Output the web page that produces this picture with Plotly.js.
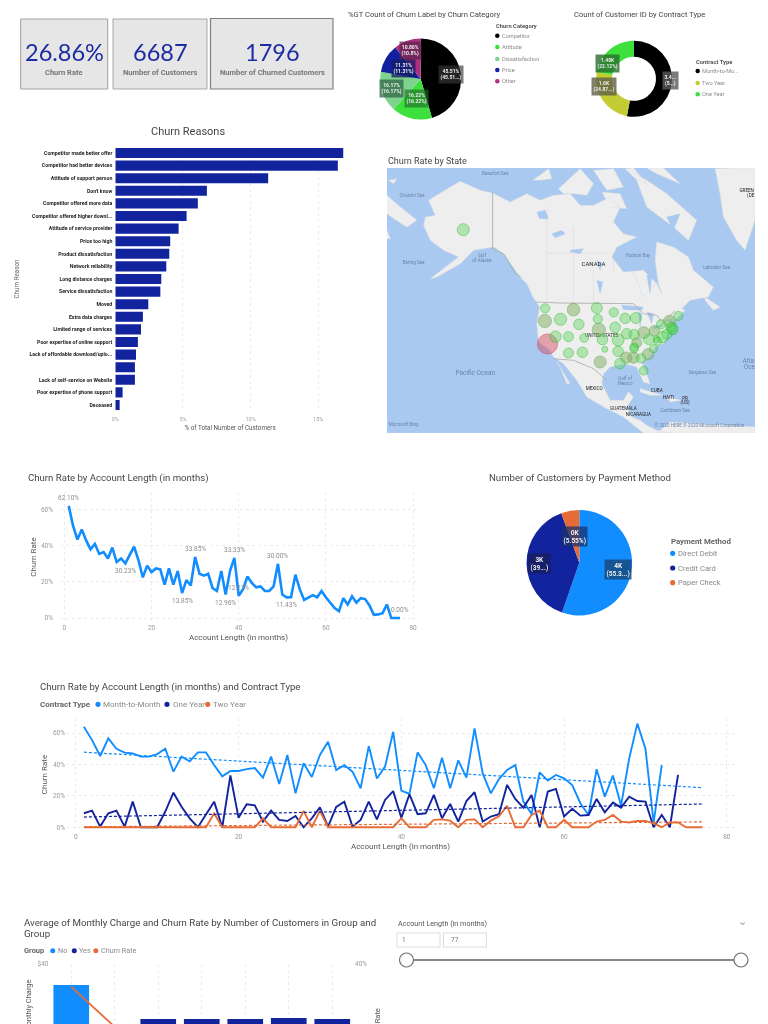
<!DOCTYPE html>
<html>
<head>
<meta charset="utf-8">
<script src="https://cdn.plot.ly/plotly-3.0.1.min.js"></script>
<style>
html,body{margin:0;padding:0;background:#fff;width:768px;height:1024px;overflow:hidden}
#chart{width:768px;height:1024px;filter:blur(0.5px)}
</style>
</head>
<body>
<div id="chart"></div>
<script>
// ---------- DATA ----------
const kpiValues = ["26.86%", "6687", "1796"];
const kpiLabels = ["Churn Rate", "Number of Customers", "Number of Churned Customers"];

const churnCategories = ["Competitor", "Attitude", "Dissatisfaction", "Price", "Other"];
const churnCategoryPct = [45.51, 16.22, 16.17, 11.31, 10.80];

const contractTypes = ["Month-to-Month", "Two Year", "One Year"];
const contractCounts = [3544, 1663, 1480];

const reasonLabels = ["Competitor made better offer", "Competitor had better devices", "Attitude of support person", "Don't know", "Competitor offered more data", "Competitor offered higher downl...", "Attitude of service provider", "Price too high", "Product dissatisfaction", "Network reliability", "Long distance charges", "Service dissatisfaction", "Moved", "Extra data charges", "Limited range of services", "Poor expertise of online support", "Lack of affordable download/uplo...", " ", "Lack of self-service on Website", "Poor expertise of phone support", "Deceased"];
const reasonPct = [16.85, 16.45, 11.3, 6.77, 6.1, 5.27, 4.68, 4.06, 3.99, 3.77, 3.4, 3.33, 2.44, 2.04, 1.9, 1.67, 1.53, 1.45, 1.45, 0.54, 0.32];

const months = [1,2,3,4,5,6,7,8,9,10,11,12,13,14,15,16,17,18,19,20,21,22,23,24,25,26,27,28,29,30,31,32,33,34,35,36,37,38,39,40,41,42,43,44,45,46,47,48,49,50,51,52,53,54,55,56,57,58,59,60,61,62,63,64,65,66,67,68,69,70,71,72,73,74,75,76,77];
const churnByLength = [62.1,51,43.5,49,43,38,41,35.5,36.5,33,39,31,33,30.23,35,39.5,32,22.5,29,25.5,27.5,27,18.5,27.5,18.5,26,13.85,21,18,33.85,24.5,23.5,24.5,16.5,15,26,12.96,26,33.33,12.27,16,23,19.5,17,17.5,15,15,17.5,30,13,11.43,11.5,24,16,10,11.5,12.7,11.5,15,11.5,8.5,5.5,3.8,11,7.5,12,8.5,11,10.5,7,1.8,2,2.7,7.5,0,0,0];
const labelMonths = [1,14,27,30,37,39,40,49,51,77];
const labelAbove = [true,false,false,true,false,true,true,true,false,true];

const paymentMethods = ["Direct Debit", "Credit Card", "Paper Check"];
const paymentCounts = [3698, 2618, 371];
const paymentLabels = ["4K\n(55.3...)", "3K\n(39...)", "0K\n(5.55%)"];

const monthToMonth = [64,55.5,45.4,56.6,50,47.5,47,45,45,46.6,50,35.4,45,42,47.7,47.7,39.6,32.4,35.8,35.8,37,37.7,31.6,45,27.5,46,21.6,40.7,32,46,54.5,36.5,39.6,35.4,24.8,51.7,31,38.6,60.8,23.3,21.2,47.7,39.6,24.8,44.3,24.8,42.6,31.6,63,34.3,21.6,30.7,36.5,39.6,16.3,8.5,35,29.7,33.3,31.2,26.9,15.3,7.8,37,19.5,32.9,13.8,43.9,66,50,3,39.6];
const oneYear = [8.9,10.6,0.4,8.9,10.6,0.4,16.3,0,0,0,10,22,13,5.7,0,7.8,16.3,0,33,6,14.6,14,3.6,10.6,4.7,4,7.2,0,5.7,12.7,0.4,13,16.3,0.4,4.7,16.3,5,17.4,23,6,21,8.3,8.9,20.6,5.7,14.8,3.6,16.7,22.3,3.6,6.8,8.3,27,18,12.5,20.6,0,22.7,24.4,6.8,11.7,7.4,7.8,18,9.5,15.7,12.5,19.5,16.7,16.3,0,7.8,0,33.3];
const twoYear = [0,0,0,0,0,0,0,0,0,0,0,0,0,0,0,0,8.9,0,0,0,0,0,5.7,0,0,0,0,10.4,0,10.4,0,0,0,0,0,0,0,0,0,5.7,0,0,0,4.7,5,4.2,0,4.7,5,0,4.2,7,13.6,0,0,7.8,10.6,0,0,4.7,0,0,0,3.6,4.7,7.8,3.6,3,4,4,2.5,0,3,3,0,0,0];
const trendMonths = [1, 77];
const trendMonthly = [47.8, 25.2];
const trendOne = [6.5, 14.8];
const trendTwo = [0.3, 3.4];

const groupSlots = [1, 2, 3, 4, 5, 6, 7];
const chargeNo = [34.3, null, null, null, null, null, null];
const chargeYes = [null, null, 25.1, 25.1, 25.1, 25.4, 25.1];
const groupChurnSlots = [1, 2];
const groupChurn = [33.8, 23.0];

const sliderMin = "1";
const sliderMax = "77";

// Map: coordinates in the map's own grid (x 20..1125, y 53..848)
const stateNames = ["AK","CA","WA","OR","ID","MT","ND","MN","WI","MI","SD","WY","NE","IA","NV","UT","CO","KS","MO","IL","IN","OH","PA","NY","VT","ME","MA","CT","NJ","MD","VA","WV","KY","TN","NC","SC","GA","AL","MS","AR","OK","AZ","NM","TX","FL","NH","RI","DE","LA"];
const stateX = [249,502,495,494,541,580,650,701,735,767,653,596,656,705,526,565,612,667,714,740,762,791,823,868,843,895,876,860,848,830,806,770,762,760,820,804,783,738,719,714,674,565,607,660,791,873,878,833,762];
const stateY = [238,581,474,512,507,478,473,486,504,503,506,522,538,531,559,559,563,568,569,550,553,547,541,513,522,497,535,552,560,567,567,577,595,622,595,612,624,622,640,603,597,608,606,635,661,530,538,573,590];
const stateCustomers = [290,810,170,350,290,320,240,170,220,240,170,220,350,220,260,200,150,220,290,220,220,290,220,290,170,170,260,200,260,90,220,200,150,260,130,260,170,260,220,220,70,200,220,290,150,200,200,130,130];
const stateChurnHigh = [0,2,0,1,0,1,0,0,0,0,0,0,1,0,0,0,0,0,0,0,0,1,1,1,0,0,0,0,0,0,0,1,0,1,0,1,0,1,0,0,0,0,0,1,0,0,0,0,0];

const landX = [130,135,165,145,210,240,300,337,390,440,480,520,570,600,640,690,720,700,730,770,710,695,730,790,830,845,835,825,830,880,925,940,1000,985,930,905,915,895,870,860,850,825,815,785,795,810,790,770,735,690,670,665,690,730,745,760,740,755,780,800,830,870,870,790,730,680,620,590,550,520,510,475,470,478,458,440,420,370,340,280,240,170,150,235,190,150,130,null,
 20,60,110,80,40,20,null,20,30,20,null,25,50,40,null,
 1005,1060,1125,1125,1095,1070,1030,1020,1005,null,
 740,800,860,950,925,880,800,770,null,
 458,505,515,480,null,535,600,640,620,580,550,null,640,700,730,680,null,735,760,800,760,null,800,850,900,830,null,665,720,740,690,null,
 530,570,560,535,null,780,850,810,780,null,860,905,870,860,null,975,1020,1000,975,null,830,870,1125,1125,970,880,830];
const landY = [225,200,195,150,110,93,120,128,155,130,150,135,130,165,165,140,170,215,250,260,290,320,365,360,400,430,400,330,275,290,320,360,410,440,450,475,480,500,520,560,580,590,615,635,660,700,695,650,640,650,670,700,750,750,725,740,770,800,810,825,840,848,848,848,800,775,740,690,640,620,600,575,520,470,440,400,380,310,290,300,340,380,385,320,300,270,225,null,
 135,170,210,230,205,190,null,240,265,265,null,90,85,100,null,
 55,53,53,210,300,270,200,130,55,null,
 55,90,130,210,270,230,170,90,null,
 90,55,85,90,null,115,55,100,135,130,130,null,60,55,110,120,null,55,53,100,80,null,53,53,100,70,null,125,130,175,170,null,
 635,700,700,640,null,715,735,735,725,null,740,750,755,740,null,440,470,480,450,null,848,815,830,848,848,848,848];
const lakeX = [470,495,505,478,470,null,515,545,555,525,515,null,570,610,600,570,null,650,668,660,650,null,725,790,785,730,725,null,775,785,780,775,null,800,820,815,800,null,820,850,845,820,null,855,880,875,855,null,860,900,880,860,null,650,665,660,650,null,800,815,810,800];
const lakeY = [185,180,205,205,185,null,250,240,250,262,250,null,300,295,310,305,null,390,395,430,390,null,465,470,480,478,465,null,485,490,530,485,null,485,490,520,485,null,530,520,530,535,null,510,505,515,510,null,200,190,240,200,null,330,340,360,330,null,375,375,430,375];
const borderX = [337,337,338,372,405,422,null,465,540,760,790,830,850,885,null,520,580,640,680];
const borderY = [125,295,295,312,370,380,null,455,458,460,490,495,520,480,null,625,630,655,690];
const provinceX = [500,500,null,580,580,null,500,700,null,700,700,null,640,640,null,760,790,825];
const provinceY = [170,455,null,230,458,null,308,308,null,310,365,null,360,460,null,365,440,400];
const mapLabels = ["Beaufort Sea","Chukchi Sea","Bering Sea","Gulf","of Alaska","Hudson Bay","Labrador Sea","CANADA","UNITED STATES","Pacific Ocean","Gulf of","Mexico","MEXICO","Sargasso Sea","Atla","Oce","CUBA","HAITI","PR","(US)","GUATEMALA","NICARAGUA","Caribbean Sea","GREEN","(DE","Microsoft Bing","© 2020 HERE © 2020 Microsoft Corporation"];
const mapLabelX = [345,95,100,305,305,773,1010,640,665,285,735,735,642,967,1105,1108,830,865,915,915,730,775,885,1100,1112,70,958];
const mapLabelY = [71,136,337,317,333,318,352,342,556,669,686,702,717,667,632,652,723,743,745,758,775,795,782,121,136,825,828];

// ---------- HELPERS ----------
const W = 768, H = 1024;
const X = p => p / W;
const Y = p => 1 - p / H;
const FONT = "Roboto, 'Liberation Sans', sans-serif";
const annotations = [];
const shapes = [];
function note(x, y, text, o) {
  o = o || {};
  annotations.push(Object.assign({
    xref: "paper", yref: "paper", x: X(x), y: Y(y), text: text, showarrow: false,
    xanchor: o.xanchor || "left", yanchor: "middle", borderpad: o.borderpad || 0,
    font: {family: o.family || FONT, size: o.size || 8, color: o.color || "#555", weight: o.weight || 400}
  }, o.extra || {}));
}
function title(x, y, text, size) { note(x, y, text, {size: size || 9, color: "#454545"}); }
function dot(x, y, color, d) {
  shapes.push({type: "circle", xref: "paper", yref: "paper", x0: X(x - d / 2), x1: X(x + d / 2), y0: Y(y + d / 2), y1: Y(y - d / 2), fillcolor: color, line: {width: 0}});
}
function box(x0, y0, x1, y1, fill, line, w) {
  shapes.push({type: "rect", xref: "paper", yref: "paper", layer: "below", x0: X(x0), x1: X(x1), y0: Y(y0), y1: Y(y1), fillcolor: fill, line: {color: line || fill, width: w === undefined ? 1 : w}});
}
function pieLabel(x, y, text, bg, size) {
  note(x, y, text.replace("\n", "<br>"), {xanchor: "center", size: size || 5, color: "#eeeeee", weight: 700,
    extra: {bgcolor: bg, borderpad: 1.5, align: "center"}});
}
const axisBase = {showline: false, zeroline: false, ticks: "", griddash: "dot", gridcolor: "#ececec", gridwidth: 1, tickfont: {family: FONT, size: 6.5, color: "#9a9a9a"}};
const axisTitleFont = {family: FONT, size: 8, color: "#555"};

// ---------- KPI CARDS ----------
box(20.7, 19, 107.7, 89, "#e6e6e6", "#a0a0a0", 1);
box(113, 19, 207, 89, "#e6e6e6", "#a8a8a8", 1);
box(210.5, 18.5, 333, 89, "#e6e6e6", "#808080", 1.2);
[64.2, 160, 272].forEach((cx, i) => {
  note(cx, 52, kpiValues[i], {xanchor: "center", size: 23.5, color: "#1c2ca3", family: "Lato, " + FONT});
  note(cx, 72, kpiLabels[i], {xanchor: "center", size: 7.5, color: "#777777", weight: 700});
});

// ---------- TITLES ----------
title(346.7, 14.3, "%GT Count of Churn Label by Churn Category", 7.6);
title(572.7, 14.3, "Count of Customer ID by Contract Type", 7.6);
note(188, 131, "Churn Reasons", {xanchor: "center", size: 11, color: "#454545"});
title(386.5, 160.5, "Churn Rate by State", 9);
title(26.7, 477.7, "Churn Rate by Account Length (in months)", 9.6);
title(488.3, 477.7, "Number of Customers by Payment Method", 9.6);
title(39, 686.7, "Churn Rate by Account Length (in months) and Contract Type", 9.6);
title(23, 922, "Average of Monthly Charge and Churn Rate by Number of Customers in Group and", 9.7);
title(23, 933.5, "Group", 9.7);

// ---------- LEGENDS ----------
const pieColors = ["#000000", "#3de03d", "#7ed48e", "#1120a0", "#ad2f80"];
note(495, 25.7, "Churn Category", {size: 5.8, color: "#555", weight: 700});
[35.7, 47, 59, 70, 81.3].forEach((y, i) => {
  dot(497.3, y, pieColors[i], 4.5);
  note(501, y, churnCategories[i], {size: 5.6, color: "#8a8a8a"});
});
const donutColors = ["#000000", "#c4cc33", "#3de03d"];
note(695, 62, "Contract Type", {size: 5.8, color: "#555", weight: 700});
["Month-to-Mo...", contractTypes[1], contractTypes[2]].forEach((t, i) => {
  const y = [71, 83, 94.3][i];
  dot(697.7, y, donutColors[i], 4.5);
  note(701, y, t, {size: 5.6, color: "#8a8a8a"});
});
const payColors = ["#118dff", "#12239e", "#e66c37"];
note(670, 541.7, "Payment Method", {size: 7.8, color: "#666", weight: 700});
[553.3, 568, 582.7].forEach((y, i) => {
  dot(672.7, y, payColors[i], 5.2);
  note(677.3, y, paymentMethods[i], {size: 7.6, color: "#8a8a8a"});
});
note(39, 704.3, "Contract Type", {size: 8, color: "#666", weight: 700});
[[98, 102, "#118dff", contractTypes[0]], [167, 171.7, "#12239e", contractTypes[2]], [207.7, 212.3, "#e66c37", contractTypes[1]]].forEach(a => {
  dot(a[0], 704.3, a[2], 5.2);
  note(a[1], 704.3, a[3], {size: 8, color: "#8a8a8a"});
});
note(23, 950.7, "Group", {size: 7.4, color: "#666", weight: 700});
[[52.8, 57.2, "#118dff", "No"], [74.3, 78.4, "#12239e", "Yes"], [95.8, 99.5, "#e66c37", "Churn Rate"]].forEach(a => {
  dot(a[0], 950.7, a[2], 5);
  note(a[1], 950.7, a[3], {size: 7.2, color: "#8a8a8a"});
});

// ---------- PIE LABELS ----------
const fmt = v => v.toFixed(2) + "%";
pieLabel(451, 74, fmt(churnCategoryPct[0]) + "\n(45.51...)", "rgba(55,55,55,0.65)");
pieLabel(416, 98, fmt(churnCategoryPct[1]) + "\n(16.22%)", "rgba(30,110,40,0.65)");
pieLabel(391.7, 88, fmt(churnCategoryPct[2]) + "\n(16.17%)", "rgba(50,100,70,0.75)");
pieLabel(403, 68, fmt(churnCategoryPct[3]) + "\n(11.31%)", "rgba(20,30,100,0.75)");
pieLabel(410, 50, fmt(churnCategoryPct[4]) + "\n(10.8%)", "rgba(90,35,75,0.7)");
pieLabel(670, 80, "3.4...\n(5...)", "rgba(90,90,90,0.8)");
pieLabel(604, 86, "1.6K\n(24.87...)", "rgba(95,95,70,0.8)");
pieLabel(607.7, 63.3, "1.48K\n(22.12%)", "rgba(40,110,45,0.8)");
pieLabel(617.7, 569, paymentLabels[0], "rgba(25,70,120,0.8)", 6.5);
pieLabel(539.3, 563.3, paymentLabels[1], "rgba(25,30,90,0.8)", 6.5);
pieLabel(574.3, 536, paymentLabels[2], "rgba(25,50,110,0.75)", 6.5);

// ---------- DATA LABELS ON THE LENGTH CHART ----------
labelMonths.forEach((m, i) => {
  const v = churnByLength[m - 1];
  annotations.push({xref: "x2", yref: "y2", x: m, y: v, text: v.toFixed(2) + "%", showarrow: false,
    xanchor: "center", yanchor: "middle", yshift: labelAbove[i] ? 8 : -8,
    font: {family: FONT, size: 6.5, color: "#8e8e8e"}});
});

// ---------- BOTTOM CHART AXIS TEXT (the page cuts these titles, as in the reference) ----------
note(28, 1006, "Monthly Charge", {xanchor: "center", size: 7.5, color: "#555", extra: {textangle: -90}});
note(377, 1027, "Churn Rate", {xanchor: "center", size: 7.5, color: "#555", extra: {textangle: -90}});

// ---------- SLICER ----------
note(397, 923, "Account Length (in months)", {size: 7.2, color: "#555"});
note(742, 921, "⌄", {xanchor: "center", size: 11, color: "#999"});
box(397, 933, 440, 947, "#ffffff", "#dddddd", 1);
box(443.5, 933, 486.5, 947, "#ffffff", "#dddddd", 1);
note(401, 940, sliderMin, {size: 6.5, color: "#777"});
note(450, 940, sliderMax, {size: 6.5, color: "#777"});
shapes.push({type: "line", xref: "paper", yref: "paper", x0: X(406), x1: X(741), y0: Y(960), y1: Y(960), line: {color: "#8a8a8a", width: 2}});
[406.5, 741].forEach(cx => shapes.push({type: "circle", xref: "paper", yref: "paper", x0: X(cx - 7), x1: X(cx + 7), y0: Y(967), y1: Y(953), fillcolor: "#ffffff", line: {color: "#707070", width: 1.2}}));

// map water
box(387, 168, 755, 433, "#a9c9f0", "#a9c9f0", 0);

// ---------- TRACES ----------
const noHover = {hoverinfo: "skip", showlegend: false};
const traces = [
  // pies
  {type: "pie", labels: churnCategories, values: churnCategoryPct, sort: false, direction: "clockwise", rotation: 0, textinfo: "none", marker: {colors: pieColors},
    domain: {x: [X(380), X(461.4)], y: [Y(119.5), Y(38.5)]}, showlegend: false},
  {type: "pie", labels: contractTypes, values: contractCounts, hole: 0.58, sort: false, direction: "clockwise", rotation: 0, textinfo: "none", marker: {colors: donutColors},
    domain: {x: [X(596), X(672)], y: [Y(116.8), Y(40.8)]}, showlegend: false},
  {type: "pie", labels: paymentMethods, values: paymentCounts, sort: false, direction: "clockwise", rotation: 0, textinfo: "none", marker: {colors: payColors},
    domain: {x: [X(526.5), X(632.1)], y: [Y(615.5), Y(510)]}, showlegend: false},
  // churn reasons
  {type: "bar", orientation: "h", y: reasonLabels, x: reasonPct, xaxis: "x", yaxis: "y", marker: {color: "#12239e"}, width: 0.8, showlegend: false},
  // churn by account length
  {type: "scatter", mode: "lines", x: months, y: churnByLength, xaxis: "x2", yaxis: "y2", line: {color: "#118dff", width: 2.6, shape: "linear"}, showlegend: false},
  // contract type
  {type: "scatter", mode: "lines", name: "Month-to-Month", x: months, y: monthToMonth, xaxis: "x3", yaxis: "y3", line: {color: "#118dff", width: 1.9}, showlegend: false},
  {type: "scatter", mode: "lines", name: "One Year", x: months, y: oneYear, xaxis: "x3", yaxis: "y3", line: {color: "#12239e", width: 1.9}, showlegend: false},
  {type: "scatter", mode: "lines", name: "Two Year", x: months, y: twoYear, xaxis: "x3", yaxis: "y3", line: {color: "#e66c37", width: 1.9}, showlegend: false},
  {type: "scatter", mode: "lines", x: trendMonths, y: trendMonthly, xaxis: "x3", yaxis: "y3", line: {color: "#118dff", width: 1.2, dash: "3px,2px"}, ...noHover},
  {type: "scatter", mode: "lines", x: trendMonths, y: trendOne, xaxis: "x3", yaxis: "y3", line: {color: "#12239e", width: 1.2, dash: "3px,2px"}, ...noHover},
  {type: "scatter", mode: "lines", x: trendMonths, y: trendTwo, xaxis: "x3", yaxis: "y3", line: {color: "#e66c37", width: 1.2, dash: "3px,2px"}, ...noHover},
  // bottom chart
  {type: "bar", x: groupSlots, y: chargeNo, xaxis: "x4", yaxis: "y4", marker: {color: "#118dff"}, width: 0.82, name: "No", showlegend: false},
  {type: "bar", x: groupSlots, y: chargeYes, xaxis: "x4", yaxis: "y4", marker: {color: "#12239e"}, width: 0.82, name: "Yes", showlegend: false},
  {type: "scatter", mode: "lines", x: groupChurnSlots, y: groupChurn, xaxis: "x4", yaxis: "y5", line: {color: "#e66c37", width: 1.8}, name: "Churn Rate", showlegend: false},
  // map
  {type: "scatter", mode: "lines", x: landX, y: landY, fill: "toself", fillcolor: "#eeeeee", line: {color: "#dcdcdc", width: 0.5}, xaxis: "x5", yaxis: "y6", ...noHover},
  {type: "scatter", mode: "lines", x: lakeX, y: lakeY, fill: "toself", fillcolor: "#a9c9f0", line: {color: "#a9c9f0", width: 0.3}, xaxis: "x5", yaxis: "y6", ...noHover},
  {type: "scatter", mode: "lines", x: provinceX, y: provinceY, line: {color: "#c4c4c4", width: 0.5, dash: "1px,1px"}, xaxis: "x5", yaxis: "y6", ...noHover},
  {type: "scatter", mode: "lines", x: borderX, y: borderY, line: {color: "#a8a8a8", width: 0.8}, xaxis: "x5", yaxis: "y6", ...noHover},
  {type: "scatter", mode: "text", x: mapLabelX, y: mapLabelY, text: mapLabels, textposition: "middle center",
    textfont: {family: FONT, size: mapLabels.map(t => /^(Pacific|Atla|Oce)/.test(t) ? 6.5 : (t === "CANADA" ? 6 : 4.6)),
      color: mapLabels.map(t => /^[A-Z(]{3,}/.test(t) || t === "PR" ? "#222" : "#6b85a8")}, xaxis: "x5", yaxis: "y6", ...noHover},
  {type: "scatter", mode: "markers", x: stateX, y: stateY, text: stateNames, xaxis: "x5", yaxis: "y6", showlegend: false,
    marker: {size: stateCustomers, sizemode: "area", sizeref: 4, sizemin: 2,
      color: stateChurnHigh.map(c => c === 2 ? "rgba(214,60,80,0.6)" : (c === 1 ? "rgba(125,175,95,0.7)" : "rgba(80,210,80,0.55)")),
      line: {width: 0.9, color: stateChurnHigh.map(c => c === 2 ? "rgba(205,50,70,0.8)" : (c === 1 ? "rgba(95,165,80,0.85)" : "rgba(50,190,50,0.85)"))}}}
];

// ---------- LAYOUT ----------
const layout = {
  width: W, height: H, margin: {l: 0, r: 0, t: 0, b: 0}, paper_bgcolor: "#ffffff", plot_bgcolor: "rgba(0,0,0,0)",
  font: {family: FONT}, showlegend: false, hovermode: "closest", barmode: "overlay",
  annotations: annotations, shapes: shapes,
  // churn reasons
  xaxis: Object.assign({}, axisBase, {domain: [X(115.3), X(345)], range: [0, 16.98], anchor: "y", tickvals: [0, 5, 10, 15], ticktext: ["0%", "5%", "10%", "15%"], tickfont: {family: FONT, size: 5.5, color: "#a0a0a0"}, ticklabelstandoff: 3,
    title: {text: "% of Total Number of Customers", font: {family: FONT, size: 6.3, color: "#555"}, standoff: 4}}),
  yaxis: Object.assign({}, axisBase, {domain: [Y(411.3), Y(146.7)], type: "category", categoryorder: "array", categoryarray: reasonLabels, range: [20.5, -0.5], anchor: "x", showgrid: false, dtick: 1, automargin: false,
    tickfont: {family: FONT, size: 5.2, color: "#222", weight: 700}, ticklabelstandoff: 2,
    title: {text: "Churn Reason", font: {family: FONT, size: 6.3, color: "#666"}, standoff: 9}}),
  // churn by length
  xaxis2: Object.assign({}, axisBase, {domain: [X(60), X(417)], range: [-1, 80.9], anchor: "y2", tickvals: [0, 20, 40, 60, 80], title: {text: "Account Length (in months)", font: axisTitleFont, standoff: 3}}),
  yaxis2: Object.assign({}, axisBase, {domain: [Y(622), Y(492)], range: [-2.2, 69.8], anchor: "x2", tickvals: [0, 20, 40, 60], ticktext: ["0%", "20%", "40%", "60%"], ticklabelstandoff: 6, title: {text: "Churn Rate", font: axisTitleFont, standoff: 3}}),
  // contract
  xaxis3: Object.assign({}, axisBase, {domain: [X(66), X(735)], range: [-1.2, 81], anchor: "y3", tickvals: [0, 20, 40, 60, 80], title: {text: "Account Length (in months)", font: axisTitleFont, standoff: 3}}),
  yaxis3: Object.assign({}, axisBase, {domain: [Y(831), Y(718)], range: [-2.4, 69.6], anchor: "x3", tickvals: [0, 20, 40, 60], ticktext: ["0%", "20%", "40%", "60%"], title: {text: "Churn Rate", font: axisTitleFont, standoff: 4}}),
  // bottom chart
  xaxis4: Object.assign({}, axisBase, {domain: [X(49.5), X(354)], range: [0.5, 7.5], anchor: "y4", showticklabels: false, dtick: 1, tick0: 1}),
  yaxis4: Object.assign({}, axisBase, {domain: [0, Y(964)], range: [23.78, 40], anchor: "x4", tickvals: [40], ticktext: ["$40"]}),
  yaxis5: Object.assign({}, axisBase, {domain: [0, Y(964)], range: [23.78, 40], anchor: "x4", overlaying: "y4", side: "right", showgrid: false, tickvals: [40], ticktext: ["40%"]}),
  // map
  xaxis5: {domain: [X(387), X(755)], range: [20, 1125], anchor: "y6", visible: false, fixedrange: true},
  yaxis6: {domain: [Y(433), Y(168)], range: [848, 53], anchor: "x5", visible: false, fixedrange: true}
};

Plotly.newPlot("chart", traces, layout, {displayModeBar: false, responsive: false});
</script>
</body>
</html>
